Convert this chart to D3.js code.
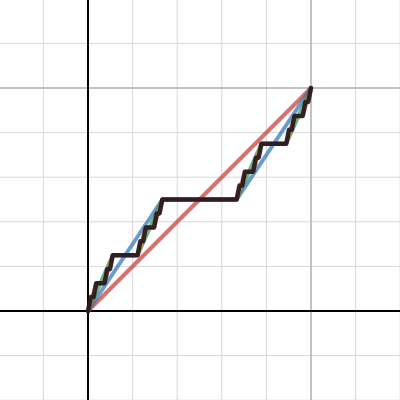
<!DOCTYPE html>
<html><head><meta charset="utf-8">
<script src="https://cdn.jsdelivr.net/npm/d3@7"></script>
<style>body{margin:0}svg{display:block}</style>
</head><body>
<svg id="chart" width="400" height="400"></svg>
<script>
// Cantor function approximations (vertices)
const redX = [0, 1];
const redY = [0, 1];
const blueX = [0, 1/3, 2/3, 1];
const blueY = [0, 1/2, 1/2, 1];
const greenX = [0, 1/9, 2/9, 3/9, 6/9, 7/9, 8/9, 1];
const greenY = [0, 1/4, 1/4, 1/2, 1/2, 3/4, 3/4, 1];
const orangeX = [0, 1/27, 2/27, 3/27, 6/27, 7/27, 8/27, 9/27, 18/27, 19/27, 20/27, 21/27, 24/27, 25/27, 26/27, 1];
const orangeY = [0, 1/8, 1/8, 2/8, 2/8, 3/8, 3/8, 4/8, 4/8, 5/8, 5/8, 6/8, 6/8, 7/8, 7/8, 1];
// black: x in 81ths, y in 16ths
const blackX81 = [0, 1, 2, 3, 6, 7, 8, 9, 18, 19, 20, 21, 24, 25, 26, 27, 54, 55, 56, 57, 60, 61, 62, 63, 72, 73, 74, 75, 78, 79, 80, 81];
const blackY16 = [0, 1, 1, 2, 2, 3, 3, 4, 4, 5, 5, 6, 6, 7, 7, 8, 8, 9, 9, 10, 10, 11, 11, 12, 12, 13, 13, 14, 14, 15, 15, 16];
const minorTicks = d3.range(-0.4, 1.41, 0.2);
const majorTicks = [1];

const width = 400, height = 400;
const x = d3.scaleLinear().domain([0, 1]).range([88, 311]);
const y = d3.scaleLinear().domain([0, 1]).range([311, 88]);
const svg = d3.select("#chart");
svg.append("rect").attr("width", width).attr("height", height).attr("fill", "#fff");

// grid
svg.selectAll(".gx").data(minorTicks).enter().append("line")
  .attr("x1", d => x(d)).attr("x2", d => x(d)).attr("y1", 0).attr("y2", height)
  .attr("stroke", "#d8d8d8").attr("stroke-width", 1);
svg.selectAll(".gy").data(minorTicks).enter().append("line")
  .attr("y1", d => y(d)).attr("y2", d => y(d)).attr("x1", 0).attr("x2", width)
  .attr("stroke", "#d8d8d8").attr("stroke-width", 1);
svg.selectAll(".mx").data(majorTicks).enter().append("line")
  .attr("x1", d => x(d)).attr("x2", d => x(d)).attr("y1", 0).attr("y2", height)
  .attr("stroke", "#999").attr("stroke-width", 1);
svg.selectAll(".my").data(majorTicks).enter().append("line")
  .attr("y1", d => y(d)).attr("y2", d => y(d)).attr("x1", 0).attr("x2", width)
  .attr("stroke", "#999").attr("stroke-width", 1);

// axes
svg.append("line").attr("x1", 0).attr("x2", width).attr("y1", y(0)).attr("y2", y(0))
  .attr("stroke", "#000").attr("stroke-width", 2);
svg.append("line").attr("y1", 0).attr("y2", height).attr("x1", x(0)).attr("x2", x(0))
  .attr("stroke", "#000").attr("stroke-width", 2);

const line = d3.line().x(d => x(d[0])).y(d => y(d[1]));
const series = [
  [redX, redY, "#c74440", 0.75, 4],
  [blueX, blueY, "#2d70b3", 0.7, 4],
  [greenX, greenY, "#388c46", 0.7, 4],
  [orangeX, orangeY, "#fa7e19", 0.7, 4],
  [blackX81.map(v => v / 81), blackY16.map(v => v / 16), "#1e1220", 0.9, 4.5]
];
series.forEach(([xs, ys, c, o, w]) => {
  svg.append("path").datum(xs.map((v, i) => [v, ys[i]]))
    .attr("d", line).attr("fill", "none").attr("stroke", c)
    .attr("stroke-opacity", o).attr("stroke-width", w)
    .attr("stroke-linejoin", "round").attr("stroke-linecap", "round");
});
</script>
</body></html>
